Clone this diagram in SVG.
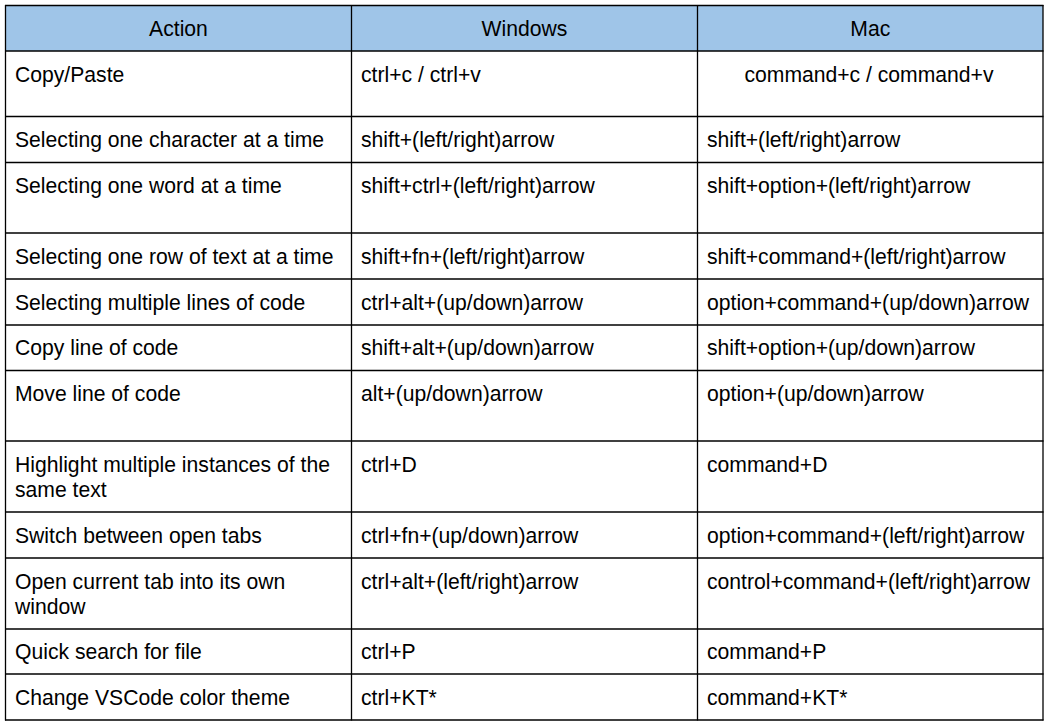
<svg xmlns="http://www.w3.org/2000/svg" width="1051" height="728" viewBox="0 0 1051 728">
<style>
text{font-family:"Liberation Sans",Arial,sans-serif;font-size:21.15px;fill:#000}
.c{text-anchor:middle}
.g line{stroke:#000;stroke-width:1.3}
</style>
<rect x="0" y="0" width="1051" height="728" fill="#fff"/>
<rect x="5.5" y="5.5" width="1037.5" height="45.5" fill="#9fc5e8"/>
<g id="header">
<text class="c" x="178.5" y="35.5">Action</text>
<text class="c" x="524.5" y="35.5">Windows</text>
<text class="c" x="870.3" y="35.5">Mac</text>
</g>
<g id="row1"><text x="15" y="81.5">Copy/Paste</text><text x="361" y="81.5">ctrl+c / ctrl+v</text><text class="c" x="869" y="81.5">command+c / command+v</text></g>
<g id="row2"><text x="15" y="147">Selecting one character at a time</text><text x="361" y="147">shift+(left/right)arrow</text><text x="707" y="147">shift+(left/right)arrow</text></g>
<g id="row3"><text x="15" y="193">Selecting one word at a time</text><text x="361" y="193">shift+ctrl+(left/right)arrow</text><text x="707" y="193">shift+option+(left/right)arrow</text></g>
<g id="row4"><text x="15" y="263.5">Selecting one row of text at a time</text><text x="361" y="263.5">shift+fn+(left/right)arrow</text><text x="707" y="263.5">shift+command+(left/right)arrow</text></g>
<g id="row5"><text x="15" y="309.5">Selecting multiple lines of code</text><text x="361" y="309.5">ctrl+alt+(up/down)arrow</text><text x="707" y="309.5">option+command+(up/down)arrow</text></g>
<g id="row6"><text x="15" y="355">Copy line of code</text><text x="361" y="355">shift+alt+(up/down)arrow</text><text x="707" y="355">shift+option+(up/down)arrow</text></g>
<g id="row7"><text x="15" y="400.5">Move line of code</text><text x="361" y="400.5">alt+(up/down)arrow</text><text x="707" y="400.5">option+(up/down)arrow</text></g>
<g id="row8"><text x="15" y="471.5">Highlight multiple instances of the</text><text x="15" y="496.5">same text</text><text x="361" y="471.5">ctrl+D</text><text x="707" y="471.5">command+D</text></g>
<g id="row9"><text x="15" y="542.5">Switch between open tabs</text><text x="361" y="542.5">ctrl+fn+(up/down)arrow</text><text x="707" y="542.5">option+command+(left/right)arrow</text></g>
<g id="row10"><text x="15" y="588.5">Open current tab into its own</text><text x="15" y="613.5">window</text><text x="361" y="588.5">ctrl+alt+(left/right)arrow</text><text x="707" y="588.5">control+command+(left/right)arrow</text></g>
<g id="row11"><text x="15" y="658.5">Quick search for file</text><text x="361" y="658.5">ctrl+P</text><text x="707" y="658.5">command+P</text></g>
<g id="row12"><text x="15" y="704.5">Change VSCode color theme</text><text x="361" y="704.5">ctrl+KT*</text><text x="707" y="704.5">command+KT*</text></g>
<g id="grid" class="g">
<line x1="5.5" y1="5" x2="5.5" y2="720.5"/>
<line x1="351.5" y1="5" x2="351.5" y2="720.5"/>
<line x1="697.5" y1="5" x2="697.5" y2="720.5"/>
<line x1="1043" y1="5" x2="1043" y2="720.5"/>
<line x1="5" y1="5.5" x2="1043.5" y2="5.5"/>
<line x1="5" y1="51" x2="1043.5" y2="51"/>
<line x1="5" y1="116.5" x2="1043.5" y2="116.5"/>
<line x1="5" y1="162.5" x2="1043.5" y2="162.5"/>
<line x1="5" y1="233" x2="1043.5" y2="233"/>
<line x1="5" y1="279" x2="1043.5" y2="279"/>
<line x1="5" y1="325" x2="1043.5" y2="325"/>
<line x1="5" y1="370.5" x2="1043.5" y2="370.5"/>
<line x1="5" y1="441" x2="1043.5" y2="441"/>
<line x1="5" y1="512" x2="1043.5" y2="512"/>
<line x1="5" y1="558" x2="1043.5" y2="558"/>
<line x1="5" y1="629" x2="1043.5" y2="629"/>
<line x1="5" y1="674" x2="1043.5" y2="674"/>
<line x1="5" y1="720" x2="1043.5" y2="720"/>
</g>
</svg>
